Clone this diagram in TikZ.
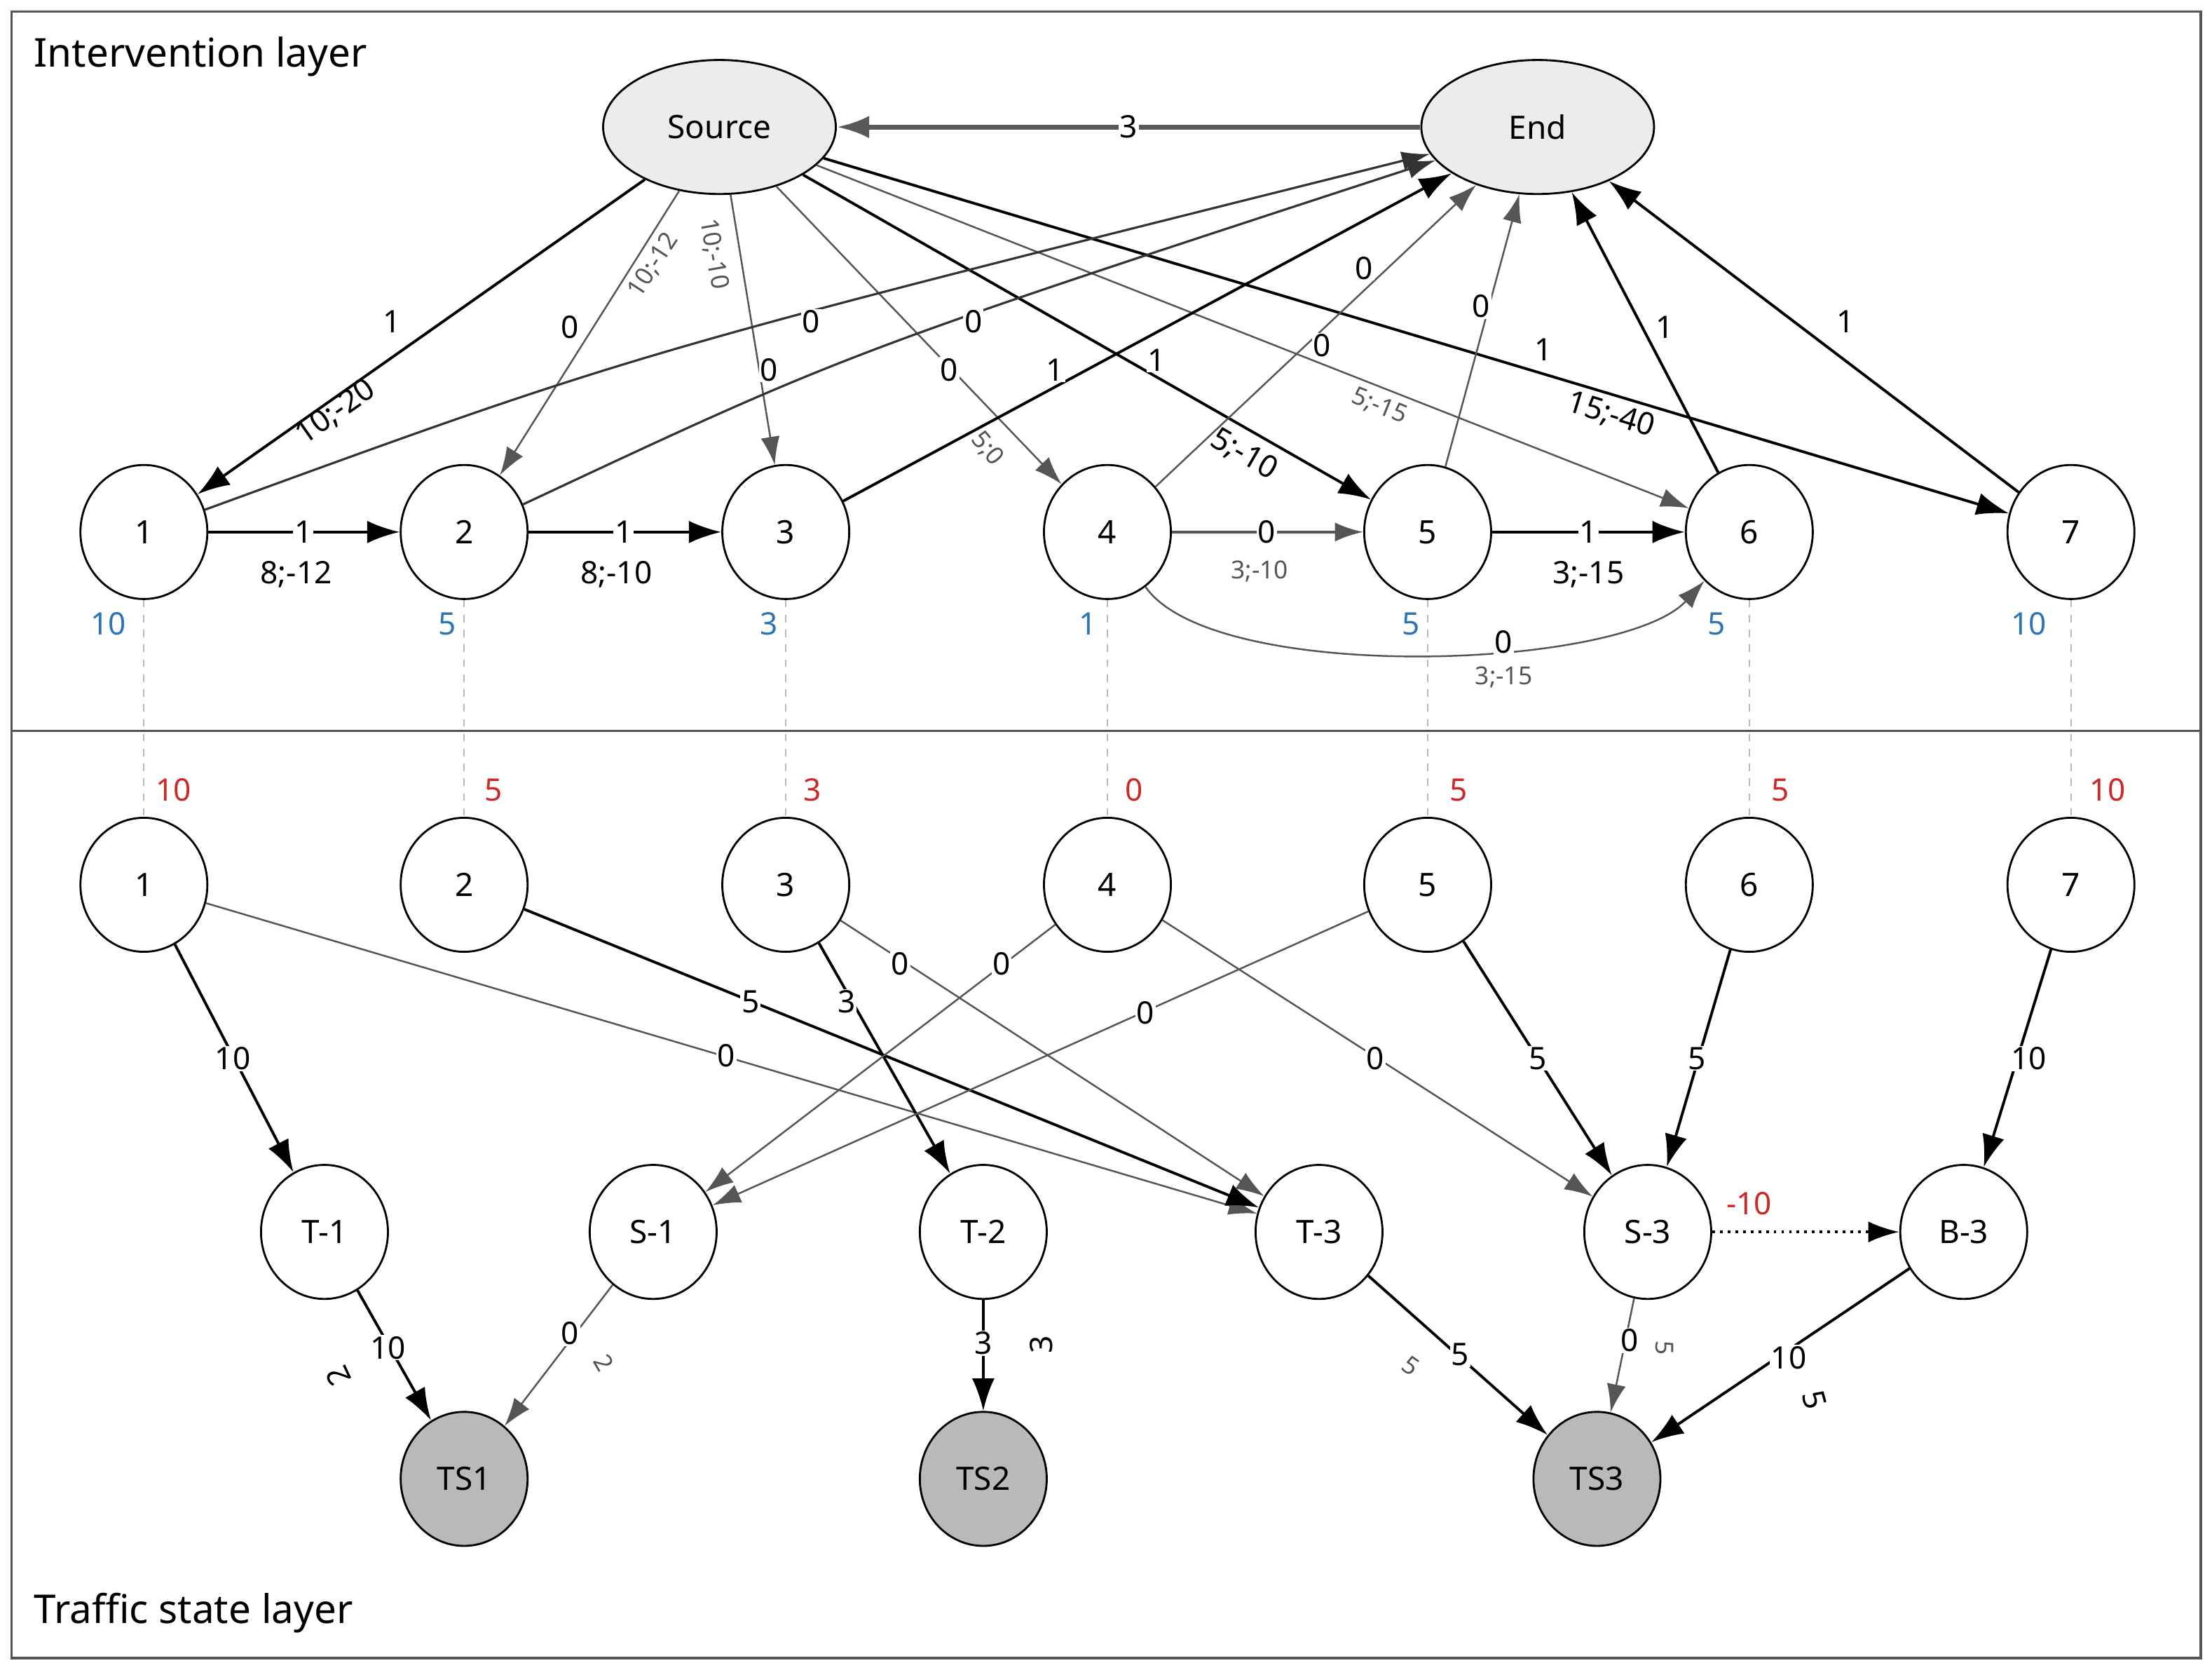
\documentclass[tikz,border=0pt]{standalone}
\usepackage{fontspec}
\setmainfont{Noto Sans}
\usetikzlibrary{shapes.geometric,arrows.meta}
\definecolor{bl}{RGB}{46,117,182}
\definecolor{rd}{RGB}{205,40,40}
\definecolor{gr}{RGB}{85,85,85}
\begin{document}
\begin{tikzpicture}[x=0.02cm,y=-0.02cm,
  nd/.style={draw,ellipse,line width=0.8pt,minimum width=1.8cm,minimum height=1.9cm,inner sep=0pt,font=\fontsize{13}{15}\selectfont},
  big/.style={nd,fill=gray!15,minimum width=3.3cm,minimum height=1.9cm},
  ts/.style={nd,fill=gray!55},
  blk/.style={draw=black,line width=1.1pt,-{Latex[length=0.46cm,width=0.32cm]}},
  gry/.style={draw=gr,line width=0.7pt,-{Latex[length=0.4cm,width=0.27cm]}},
  lbl/.style={fill=white,inner sep=0.5pt,font=\fontsize{12.5}{14}\selectfont},
  sl/.style={inner sep=0pt,font=\fontsize{10}{12}\selectfont,text=gr},
  ml/.style={inner sep=0pt,font=\fontsize{12.5}{14}\selectfont},
  bv/.style={text=bl,font=\fontsize{12.5}{14}\selectfont},
  rv/.style={text=rd,font=\fontsize{12.5}{14}\selectfont},
  vd/.style={draw=gray!55,dashed,line width=0.6pt}]
\useasboundingbox (0,0) rectangle (1568,1183);
\draw[line width=0.9pt,gr] (8,8) rectangle (1560,1175);
\draw[line width=0.9pt,gr] (8,518) -- (1560,518);
\node[anchor=west,font=\fontsize{16}{18}\selectfont] (ttl1) at (18,40) {Intervention layer};
\node[anchor=west,font=\fontsize{16}{18}\selectfont] (ttl2) at (18,1143) {Traffic state layer};
% nodes
\node[big] (S) at (510,90) {Source};
\node[big] (E) at (1090,90) {End};
\foreach \i/\x in {1/102,2/329,3/557,4/785,5/1012,6/1240,7/1468}{
  \node[nd] (t\i) at (\x,377) {\i};
  \node[nd] (b\i) at (\x,627) {\i};
  \draw[vd] (t\i) -- (b\i);
}
\node[nd] (T1) at (230,873) {T-1};
\node[nd] (S1) at (463,873) {S-1};
\node[nd] (T2) at (697,873) {T-2};
\node[nd] (T3) at (935,873) {T-3};
\node[nd] (S3) at (1168,873) {S-3};
\node[nd] (B3) at (1392,873) {B-3};
\node[ts] (TS1) at (329,1048) {TS1};
\node[ts] (TS2) at (697,1048) {TS2};
\node[ts] (TS3) at (1132,1048) {TS3};
% blue / red values
\foreach \x/\v in {77/10,317/5,545/3,771/1,1000/5,1217/5,1438/10}{\node[bv] at (\x,442) {\v};}
\foreach \x/\v in {123/10,350/5,576/3,804/0,1034/5,1262/5,1494/10}{\node[rv] at (\x,560) {\v};}
% top edges
\draw[draw=gray!70!black,line width=2pt,-{Latex[length=0.46cm,width=0.32cm]}] (E) -- (S);
\draw[blk] (S) -- (t1);
\draw[gry] (S) -- (t2);
\draw[gry] (S) -- (t3);
\draw[gry] (S) -- (t4);
\draw[blk] (S) -- (t5);
\draw[gry] (S) -- (t6);
\draw[blk] (S) -- (t7);
\draw[gry,line width=0.9pt,draw=black!80] (t1) .. controls (450,250) .. (E);
\draw[gry,line width=0.9pt,draw=black!80] (t2) .. controls (600,250) .. (E);
\draw[blk] (t3) -- (E);
\draw[gry] (t4) -- (E);
\draw[gry] (t5) -- (E);
\draw[blk] (t6) -- (E);
\draw[blk] (t7) -- (E);
\draw[blk] (t1) -- (t2);
\draw[blk] (t2) -- (t3);
\draw[gry,line width=1.1pt] (t4) -- (t5);
\draw[blk] (t5) -- (t6);
\draw[gry] (t4) .. controls (860,485) and (1150,475) .. (t6);
% top labels
\node[lbl] at (800,90) {3};
\node[lbl] at (278,228) {1};
\node[ml,rotate=35] at (238,292) {10;-20};
\node[lbl] at (404,232) {0};
\node[sl,rotate=57] at (463,188) {10;-12};
\node[lbl] at (545,262) {0};
\node[sl,rotate=-80] at (506,180) {10;-10};
\node[lbl] at (673,262) {0};
\node[sl,rotate=-50] at (700,318) {5;0};
\node[lbl] at (820,255) {1};
\node[ml,rotate=-30] at (882,322) {5;-10};
\node[lbl] at (937,245) {0};
\node[sl,rotate=-22] at (978,288) {5;-15};
\node[lbl] at (1094,248) {1};
\node[ml,rotate=-17] at (1142,294) {15;-40};
\node[lbl] at (575,228) {0};
\node[lbl] at (690,228) {0};
\node[lbl] at (748,262) {1};
\node[lbl] at (967,190) {0};
\node[lbl] at (1050,217) {0};
\node[lbl] at (1180,232) {1};
\node[lbl] at (1308,228) {1};
\node[lbl] at (215,377) {1};
\node[ml] at (210,407) {8;-12};
\node[lbl] at (442,377) {1};
\node[ml] at (437,407) {8;-10};
\node[lbl] at (898,377) {0};
\node[sl] at (893,405) {3;-10};
\node[lbl] at (1126,377) {1};
\node[ml] at (1126,407) {3;-15};
\node[lbl] at (1066,455) {0};
\node[sl] at (1066,480) {3;-15};
% bottom edges
\draw[blk] (b1) -- (T1);
\draw[gry] (b1) -- (T3);
\draw[blk] (b2) -- (T3);
\draw[blk] (b3) -- (T2);
\draw[gry] (b3) -- (T3);
\draw[gry] (b4) -- (S1);
\draw[gry] (b5) -- (S1);
\draw[gry] (b4) -- (S3);
\draw[blk] (b5) -- (S3);
\draw[blk] (b6) -- (S3);
\draw[blk] (b7) -- (B3);
\draw[blk,dotted,line width=1.2pt,-{Latex[length=0.44cm,width=0.3cm]}] (S3) -- (B3);
\draw[blk] (T1) -- (TS1);
\draw[gry] (S1) -- (TS1);
\draw[blk] (T2) -- (TS2);
\draw[blk] (T3) -- (TS3);
\draw[gry] (S3) -- (TS3);
\draw[blk] (B3) -- (TS3);
% bottom labels
\node[lbl] at (165,750) {10};
\node[lbl] at (515,748) {0};
\node[lbl] at (532,710) {5};
\node[lbl] at (600,710) {3};
\node[lbl] at (638,683) {0};
\node[lbl] at (710,683) {0};
\node[lbl] at (812,718) {0};
\node[lbl] at (975,750) {0};
\node[lbl] at (1090,750) {5};
\node[lbl] at (1203,750) {5};
\node[lbl] at (1438,750) {10};
\node[rv] at (1240,853) {-10};
\node[lbl] at (275,955) {10};
\node[ml,rotate=115] at (240,975) {2};
\node[lbl] at (404,945) {0};
\node[sl,rotate=-60] at (428,966) {2};
\node[lbl] at (697,952) {3};
\node[ml,rotate=90] at (738,953) {3};
\node[lbl] at (1035,960) {5};
\node[sl,rotate=-35] at (1000,968) {5};
\node[lbl] at (1155,950) {0};
\node[sl,rotate=-90] at (1180,955) {5};
\node[lbl] at (1268,962) {10};
\node[ml,rotate=-75] at (1286,992) {5};
\end{tikzpicture}
\end{document}
